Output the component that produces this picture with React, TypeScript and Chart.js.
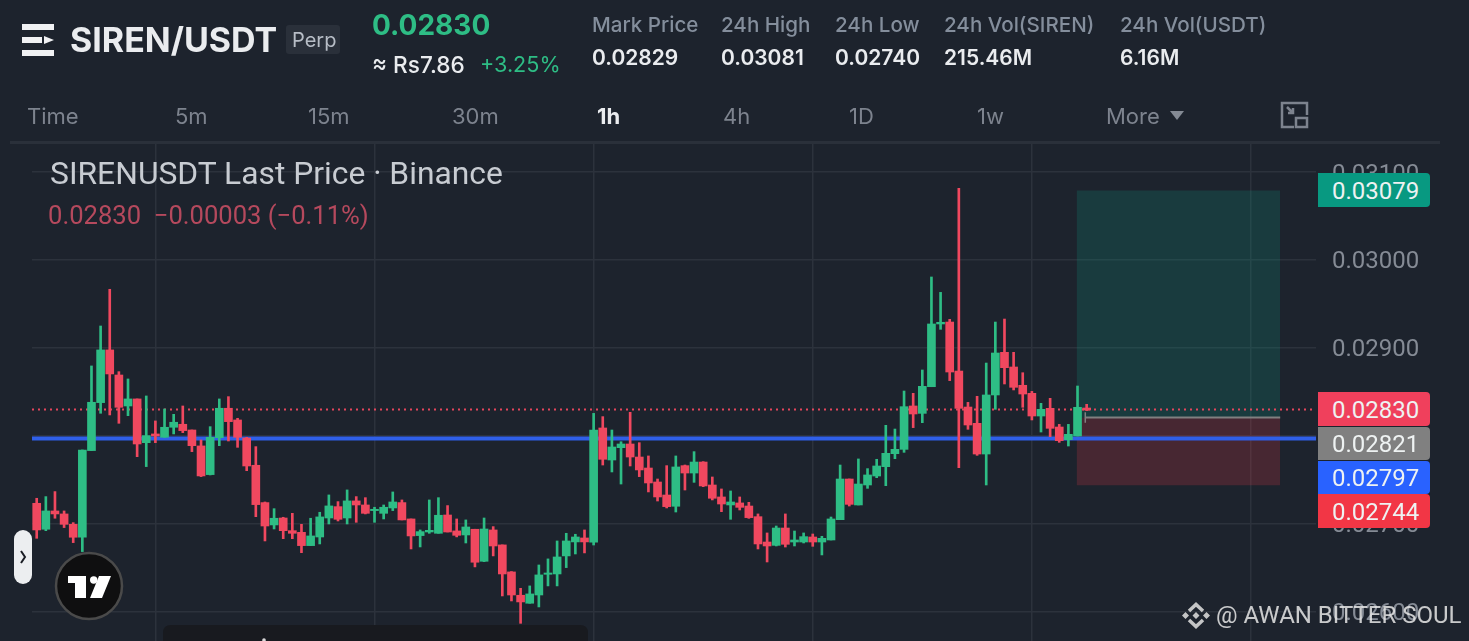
import React, { useEffect, useRef } from "react";
import { Chart, registerables } from "chart.js";

Chart.register(...registerables);

const opens = [0.027235,0.02694,0.027148,0.027114,0.026996,0.026849,0.027834,0.028379,0.028978,0.028693,0.028341,0.028421,0.027924,0.028023,0.027985,0.028099,0.028133,0.028068,0.027887,0.027561,0.027981,0.028315,0.028182,0.027977,0.027667,0.027243,0.026989,0.027068,0.026924,0.026905,0.026754,0.026852,0.027068,0.027197,0.027068,0.027262,0.027216,0.027152,0.027121,0.027182,0.027243,0.027057,0.026868,0.026909,0.026894,0.027102,0.026921,0.026875,0.02694,0.026576,0.026932,0.026762,0.026455,0.02619,0.026099,0.026193,0.026428,0.026432,0.026637,0.026796,0.026841,0.026792,0.028091,0.027727,0.027867,0.027909,0.027761,0.027636,0.027477,0.027329,0.027201,0.027663,0.027579,0.027704,0.027443,0.027307,0.027216,0.027239,0.027204,0.027083,0.026795,0.026757,0.026954,0.026795,0.026795,0.026852,0.026795,0.026818,0.027049,0.027511,0.027216,0.027443,0.027545,0.027651,0.027799,0.027848,0.028341,0.028257,0.02856,0.029273,0.029295,0.028738,0.028329,0.028144,0.027795,0.028466,0.028951,0.028784,0.028576,0.028485,0.028227,0.028314,0.028102,0.027958,0.028,0.028318];
const closes = [0.026932,0.027148,0.027114,0.026996,0.026849,0.027841,0.028383,0.028978,0.028705,0.028326,0.028421,0.027909,0.028004,0.028,0.028099,0.028156,0.028061,0.02789,0.027546,0.027985,0.028315,0.028163,0.027985,0.027659,0.02722,0.026977,0.027065,0.026924,0.026894,0.026754,0.026864,0.02708,0.027205,0.027053,0.027262,0.027216,0.027121,0.027167,0.02719,0.02725,0.027046,0.026864,0.026913,0.026928,0.027099,0.026909,0.026871,0.026966,0.026565,0.026943,0.02675,0.026432,0.026193,0.026114,0.026205,0.026421,0.026443,0.026625,0.026807,0.026852,0.026796,0.028068,0.027735,0.027875,0.027909,0.027761,0.027614,0.027466,0.027307,0.027197,0.027648,0.027579,0.027704,0.027432,0.027292,0.027227,0.02725,0.027189,0.027072,0.026773,0.02675,0.026954,0.026769,0.026818,0.026856,0.026795,0.026837,0.027057,0.027511,0.027223,0.027454,0.027557,0.027659,0.027803,0.027848,0.028333,0.02825,0.028564,0.029273,0.029292,0.028727,0.028314,0.028125,0.027795,0.028466,0.028943,0.028776,0.028553,0.028477,0.028227,0.028303,0.028087,0.027947,0.028019,0.028326,0.028295];
const highs = [0.027292,0.027311,0.027368,0.027148,0.027015,0.027841,0.028796,0.02925,0.029667,0.028731,0.028648,0.028421,0.028455,0.028171,0.028307,0.028246,0.028341,0.028068,0.027955,0.028106,0.028421,0.028447,0.028201,0.027985,0.027879,0.02725,0.027174,0.027076,0.027121,0.026996,0.027065,0.027133,0.02733,0.027254,0.027387,0.027311,0.027299,0.02719,0.027216,0.027364,0.027273,0.027057,0.026932,0.027273,0.027299,0.027209,0.027057,0.027046,0.02694,0.027068,0.02697,0.026762,0.026459,0.026269,0.026296,0.026534,0.026603,0.026807,0.026894,0.026883,0.026932,0.028257,0.02822,0.028068,0.027935,0.028269,0.027924,0.027773,0.027511,0.027663,0.027773,0.02767,0.027822,0.027708,0.027534,0.027398,0.027375,0.027307,0.027246,0.027114,0.026898,0.026977,0.027114,0.02692,0.026898,0.026886,0.02686,0.027079,0.02767,0.027511,0.027739,0.027629,0.027735,0.028121,0.028079,0.028511,0.028485,0.02875,0.029807,0.029632,0.029326,0.030814,0.028382,0.028451,0.028829,0.029295,0.029329,0.028951,0.028719,0.028507,0.028371,0.028428,0.028132,0.028132,0.028568,0.02836];
const lows = [0.026837,0.026924,0.027065,0.026959,0.026788,0.026686,0.027834,0.028258,0.028239,0.028144,0.028231,0.027765,0.027652,0.027924,0.027985,0.028023,0.028038,0.027822,0.027538,0.027557,0.02789,0.027943,0.027871,0.027606,0.027083,0.026807,0.026943,0.026833,0.026833,0.026674,0.026754,0.026773,0.027,0.027034,0.027,0.027019,0.027114,0.027019,0.027057,0.027152,0.027046,0.026716,0.026739,0.026894,0.026894,0.026909,0.026853,0.026784,0.026512,0.026572,0.026637,0.026182,0.026125,0.025871,0.026099,0.026057,0.026296,0.026296,0.026504,0.026659,0.026671,0.026761,0.02767,0.027591,0.027454,0.027659,0.027538,0.027364,0.027261,0.027182,0.027136,0.027386,0.027473,0.027424,0.027273,0.02714,0.027053,0.027159,0.027064,0.026716,0.026568,0.02675,0.026738,0.02675,0.026784,0.026746,0.026648,0.026818,0.027049,0.027204,0.027216,0.027405,0.027526,0.027435,0.027742,0.027814,0.028095,0.028151,0.02856,0.029212,0.028629,0.02764,0.028076,0.02778,0.027443,0.028303,0.028591,0.028523,0.028326,0.028182,0.028045,0.027992,0.027928,0.027886,0.028,0.028288];

const yTickValues = [0.026, 0.027, 0.028, 0.029, 0.03, 0.031];
const xGridIndices = [13, 37, 61, 85, 109, 133];
const lastPrice = 0.0283;
const entryPrice = 0.02821;
const bluePrice = 0.02797;
const stopPrice = 0.02744;
const targetPrice = 0.03079;
const boxStartIndex = 113.9;
const boxEndIndex = 136.2;
const entryLineStart = 114.85;

const headerStats = [
  { label: "Mark Price", value: "0.02829", x: 592 },
  { label: "24h High", value: "0.03081", x: 721 },
  { label: "24h Low", value: "0.02740", x: 835 },
  { label: "24h Vol(SIREN)", value: "215.46M", x: 944 },
  { label: "24h Vol(USDT)", value: "6.16M", x: 1120 },
];
const tabs = [
  { label: "Time", x: 27 },
  { label: "5m", x: 175 },
  { label: "15m", x: 308 },
  { label: "30m", x: 452 },
  { label: "1h", x: 597, active: true },
  { label: "4h", x: 723 },
  { label: "1D", x: 849 },
  { label: "1w", x: 977 },
  { label: "More", x: 1106 },
];
const badges = [
  { text: "0.03079", top: 173, height: 34, bg: "#089981" },
  { text: "0.02830", top: 392, height: 34, bg: "#f0405c" },
  { text: "0.02821", top: 427, height: 33, bg: "#808080" },
  { text: "0.02797", top: 461, height: 33, bg: "#2962ff" },
  { text: "0.02744", top: 494, height: 34, bg: "#f23645" },
];

const GREEN = "#2ebd85";
const RED = "#f0485f";
const BG = "#1d232d";
const UI = "Inter, sans-serif";
const TV = "Roboto, sans-serif";

function T(p: { x: number; y: number; size: number; color: string; weight?: number; font?: string; children: React.ReactNode; spacing?: number }) {
  return (
    <div
      style={{
        position: "absolute",
        left: p.x,
        top: p.y,
        transform: "translateY(-50%)",
        fontFamily: p.font || UI,
        fontSize: p.size,
        fontWeight: p.weight || 400,
        color: p.color,
        whiteSpace: "pre",
        letterSpacing: p.spacing || 0,
        lineHeight: 1,
      }}
    >
      {p.children}
    </div>
  );
}

function line(label: string, x0: number, x1: number, y: number, color: string, width: number, order: number, dash?: number[]) {
  return {
    type: "line" as const,
    label,
    data: [{ x: x0, y }, { x: x1, y }],
    borderColor: color,
    borderWidth: width,
    borderDash: dash || [],
    pointRadius: 0,
    order,
  };
}

function box(label: string, y0: number, y1: number, color: string, order: number) {
  return {
    type: "line" as const,
    label,
    data: [{ x: boxStartIndex, y: y1 }, { x: boxEndIndex, y: y1 }],
    borderWidth: 0,
    pointRadius: 0,
    backgroundColor: color,
    fill: { value: y0 },
    order,
  };
}

export default function App() {
  const ref = useRef<HTMLCanvasElement>(null);
  useEffect(() => {
    document.body.style.margin = "0";
    const upColor = (i: number) => (closes[i] >= opens[i] ? GREEN : RED);
    const scriptColor = (c: any) => upColor(c.dataIndex);
    const chart = new Chart(ref.current as HTMLCanvasElement, {
      type: "bar",
      data: {
        datasets: [
          box("Target zone", entryPrice, targetPrice, "rgba(8,153,129,0.2)", 6),
          box("Stop zone", stopPrice, entryPrice, "rgba(242,54,69,0.2)", 6),
          line("Last price", -0.515, 140.12, lastPrice, "rgba(240,72,95,0.95)", 2, 5, [2, 4]),
          line("Level", -0.515, 140.12, bluePrice, "#2f5fe8", 4, 4),
          line("Entry", entryLineStart, boxEndIndex, entryPrice, "#808080", 2, 3),
          {
            type: "line" as const,
            label: "Entry tick",
            data: [{ x: entryLineStart, y: 0.02827 }, { x: entryLineStart, y: 0.02815 }],
            borderColor: "#808080",
            borderWidth: 1.5,
            pointRadius: 0,
            order: 3,
          },
          {
            type: "bar" as const,
            label: "Wicks",
            data: highs.map((h, i) => ({ x: i, y: [lows[i], h] })),
            backgroundColor: scriptColor,
            barThickness: 2,
            grouped: false,
            borderWidth: 0,
            order: 2,
          },
          {
            type: "bar" as const,
            label: "Bodies",
            data: opens.map((o, i) => ({ x: i, y: [Math.min(o, closes[i]), Math.max(o, closes[i])] })),
            backgroundColor: scriptColor,
            barThickness: 8,
            grouped: false,
            borderWidth: 0,
            order: 1,
          },
        ] as any,
      },
      options: {
        responsive: false,
        animation: false,
        devicePixelRatio: 1,
        layout: { padding: { left: 32, top: 142, right: 0, bottom: 0 } },
        plugins: { legend: { display: false }, tooltip: { enabled: false } },
        scales: {
          x: {
            type: "linear",
            min: -0.515,
            max: 140.12,
            offset: false,
            grid: { color: "#2c323c", offset: false, drawTicks: false, lineWidth: 1.5 },
            border: { display: false },
            ticks: { display: false },
            afterBuildTicks: (axis: any) => {
              axis.ticks = xGridIndices.map((value) => ({ value }));
            },
            afterFit: (axis: any) => {
              axis.height = 0;
              axis.paddingLeft = 0;
              axis.paddingRight = 0;
            },
          },
          y: {
            position: "right",
            min: 0.02567,
            max: 0.031341,
            grid: { color: "#2c323c", drawTicks: false, lineWidth: 1.5 },
            border: { display: false },
            ticks: {
              padding: 16,
              color: "#858b95",
              font: { family: TV, size: 24, lineHeight: "5px" },
              callback: (v: any) => ["", Number(v).toFixed(5)],
            },
            afterBuildTicks: (axis: any) => {
              axis.ticks = yTickValues.map((value) => ({ value }));
            },
            afterFit: (axis: any) => {
              axis.width = 153;
              axis.paddingTop = 0;
              axis.paddingBottom = 0;
            },
          },
        },
      } as any,
    });
    return () => chart.destroy();
  }, []);

  return (
    <div style={{ position: "fixed", left: 0, top: 0, width: 1469, height: 641, background: BG, overflow: "hidden" }}>
      <canvas ref={ref} width={1469} height={641} style={{ position: "absolute", left: 0, top: 0, display: "block" }} />

      <div style={{ position: "absolute", left: 10, top: 141, width: 1430, height: 3, background: "#2a303a" }} />

      <svg width={1469} height={641} style={{ position: "absolute", left: 0, top: 0, pointerEvents: "none" }}>
        <g fill="#f0f1f3">
          <rect x={22} y={24} width={32} height={6} />
          <rect x={22} y={37} width={20} height={6} />
          <path d="M44 36 L54 40 L44 44 Z" />
          <rect x={22} y={50} width={32} height={6} />
        </g>
        <path d="M1170 111 L1184 111 L1177 120 Z" fill="#848a94" />
        <g fill="none" stroke="#7d838e" strokeWidth={2.5}>
          <path d="M1307 115 V103 H1282 V127 H1294" />
          <rect x={1296} y={118} width={11} height={9} />
          <path d="M1287 107 L1293 113 M1293 108 V113 H1288" />
        </g>
        <rect x={14} y={530} width={18} height={54} rx={9} fill="#eceef0" />
        <path d="M21 551 L25 557 L21 563" fill="none" stroke="#1a1d24" strokeWidth={2} />
        <circle cx={89} cy={586} r={33} fill="#0f0f10" stroke="#4a4a4a" strokeWidth={2.5} />
        <g fill="#ffffff">
          <path d="M68 576 H86 V598 H75 V583 H68 Z" />
          <circle cx={93.7} cy={580} r={3.7} />
          <path d="M99 576 H111 L102 598 H90 Z" />
        </g>
        <path d="M163 641 V633 Q163 625 171 625 H580 Q588 625 588 633 V641 Z" fill="#181a1f" />
        <circle cx={264} cy={640} r={1.8} fill="#d8d8d8" />
        <g opacity={0.9}>
          <path d="M1189 611 L1196 604.5 L1203 611 M1189 620 L1196 626.5 L1203 620" fill="none" stroke="#d8d8d8" strokeWidth={3.5} />
          <path d="M1185.5 612 L1189 615.5 L1185.5 619 L1182 615.5 Z M1206.5 612 L1210 615.5 L1206.5 619 L1203 615.5 Z M1196 612 L1199.5 615.5 L1196 619 L1192.5 615.5 Z" fill="#d8d8d8" />
        </g>
      </svg>

      <T x={70} y={40} size={34} weight={700} color="#eaecef">SIREN/USDT</T>
      <div style={{ position: "absolute", left: 286, top: 25, width: 54, height: 29, background: "#2a303a", borderRadius: 3 }} />
      <T x={292} y={40} size={20} color="#b7bdc6">Perp</T>
      <T x={372} y={25} size={28} weight={700} color={GREEN}>0.02830</T>
      <T x={372} y={65} size={22.6} weight={500} color="#eaecef">≈ Rs7.86</T>
      <T x={480} y={65} size={21.6} color={GREEN}>+3.25%</T>

      {headerStats.map((s) => (
        <React.Fragment key={s.label}>
          <T x={s.x} y={25} size={20.6} weight={500} color="#848e9c">{s.label}</T>
          <T x={s.x} y={57} size={21} weight={600} color="#eaecef">{s.value}</T>
        </React.Fragment>
      ))}
      {tabs.map((t) => (
        <T key={t.label} x={t.x} y={116} size={22} weight={t.active ? 700 : 400} color={t.active ? "#eaecef" : "#7d838e"}>{t.label}</T>
      ))}

      <T x={50} y={174} size={31.8} font={TV} color="#c8ccd2">SIRENUSDT Last Price · Binance</T>
      <T x={48} y={216} size={25.6} font={TV} color="#b5495d">{"0.02830  −0.00003 (−0.11%)"}</T>

      {badges.map((b) => (
        <div
          key={b.text}
          style={{
            position: "absolute",
            left: 1318,
            top: b.top,
            width: 112,
            height: b.height,
            background: b.bg,
            borderRadius: "0 4px 4px 0",
            color: "#eef2f2",
            fontFamily: TV,
            fontSize: 24,
            lineHeight: `${b.height + 2}px`,
            paddingLeft: 14,
            boxSizing: "border-box",
          }}
        >
          {b.text}
        </div>
      ))}

      <T x={1216} y={615} size={24} font={TV} color="rgba(232,232,232,0.85)">@ AWAN BITTER SOUL</T>
    </div>
  );
}
